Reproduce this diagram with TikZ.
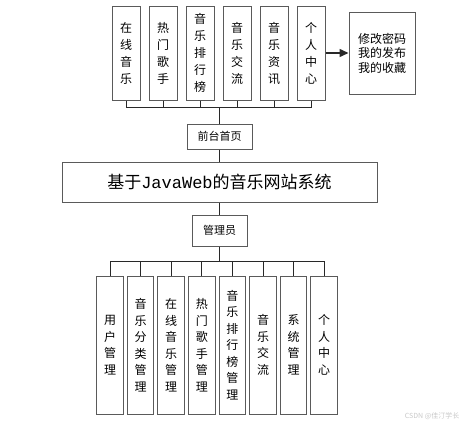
\documentclass[tikz,border=0pt]{standalone}
\usepackage{fontspec}
\setmainfont{Noto Sans CJK SC}
\newfontfamily\latinmono{Liberation Mono}
\usetikzlibrary{arrows.meta,positioning}
\definecolor{frame}{RGB}{90,90,90}
\definecolor{wire}{RGB}{40,40,40}
\definecolor{mark}{RGB}{200,200,200}

\begin{document}
\begin{tikzpicture}[x=1pt,y=-1pt,
  colbox/.style={draw=frame,line width=1pt,minimum width=28pt,minimum height=94pt,inner sep=0pt,align=center,font=\fontsize{12}{17}\selectfont},
  modbox/.style={draw=frame,line width=1pt,minimum width=26.5pt,minimum height=138pt,inner sep=0pt,align=center,font=\fontsize{12}{16.5}\selectfont},
  hbox/.style={draw=frame,line width=1pt,inner sep=0pt,align=center},
  wir/.style={draw=wire,line width=0.8pt},
  arr/.style={-{Triangle[length=9pt,width=8pt]},draw=wire,line width=1.5pt}]
  \useasboundingbox (0,0) rectangle (474,426);
  % front-end column boxes
  \foreach \t [count=\i] in {在\\线\\音\\乐, 热\\门\\歌\\手, 音\\乐\\排\\行\\榜, 音\\乐\\交\\流, 音\\乐\\资\\讯, 个\\人\\中\\心}{
    \node[colbox] (t\i) at ({89+37*\i},53) {\t};
  }
  \node[hbox,minimum width=66pt,minimum height=82pt,font=\fontsize{12}{14.5}\selectfont] (mine) at (382,53) {修改密码\\我的发布\\我的收藏};
  \node[hbox,minimum width=65pt,minimum height=25pt,font=\fontsize{11}{13}\selectfont] (front) at (219.5,136.5) {前台首页};
  \node[hbox,minimum width=315pt,minimum height=40pt,font=\fontsize{17}{20}\selectfont] (sys) at (219.5,182) {基于{\latinmono JavaWeb}的音乐网站系统};
  \node[hbox,minimum width=55pt,minimum height=31pt,font=\fontsize{11}{13}\selectfont] (admin) at (219.5,230.5) {管理员};
  % back-end module boxes
  \foreach \t [count=\i] in {用\\户\\管\\理, 音\\乐\\分\\类\\管\\理, 在\\线\\音\\乐\\管\\理, 热\\门\\歌\\手\\管\\理, 音\\乐\\排\\行\\榜\\管\\理, 音\\乐\\交\\流, 系\\统\\管\\理, 个\\人\\中\\心}{
    \node[modbox] (b\i) at ({79.4+30.6*\i},345) {\t};
  }
  % upper bus
  \coordinate (tbus) at (front.north |- 0,107);
  \draw[wir] (t1.south) -- (t1.south |- tbus) -- (t6.south |- tbus) -- (t6.south);
  \foreach \i in {2,...,5}{\draw[wir] (t\i.south) -- (t\i.south |- tbus);}
  \draw[wir] (tbus) -- (front.north);
  \draw[arr] (t6.east) -- (mine.west);
  \draw[wir] (front) -- (sys);
  \draw[wir] (sys) -- (admin);
  % lower bus
  \coordinate (bbus) at (admin.south |- 0,261);
  \draw[wir] (admin.south) -- (bbus);
  \draw[wir] (b1.north) -- (b1.north |- bbus) -- (b8.north |- bbus) -- (b8.north);
  \foreach \i in {2,...,7}{\draw[wir] (b\i.north) -- (b\i.north |- bbus);}
  \node[text=mark,font=\fontsize{7}{8}\selectfont,anchor=east] (wm) at (463,416) {CSDN @佳汀学长};
\end{tikzpicture}
\end{document}
